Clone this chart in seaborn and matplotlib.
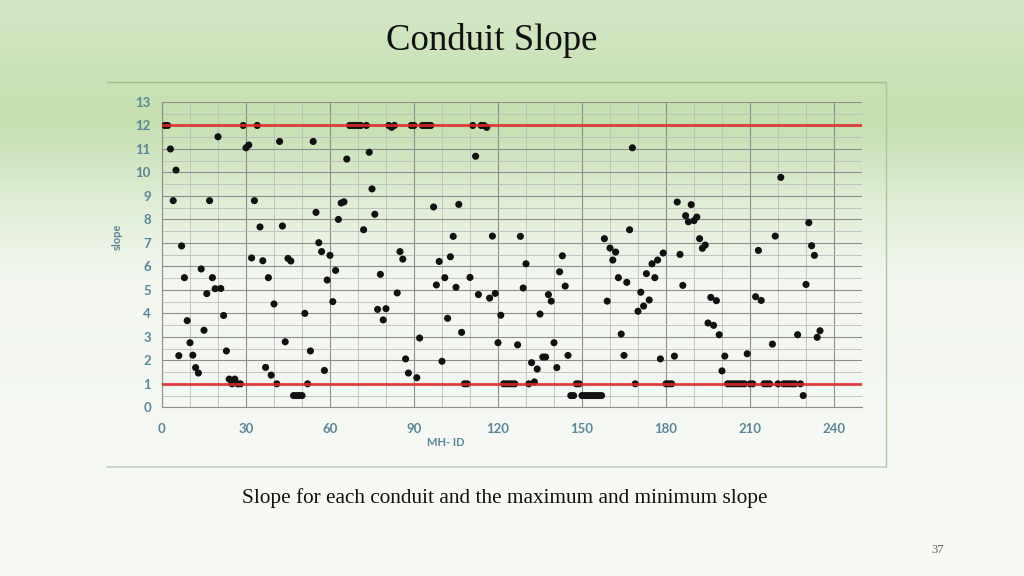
import numpy as np
import matplotlib
matplotlib.use("Agg")
import matplotlib.pyplot as plt
import seaborn as sns
from matplotlib.colors import to_rgb
from matplotlib.lines import Line2D

# slope of each conduit (MH-ID 1..235)
slope = [
    12.0, 12.0, 11.0, 8.8, 10.1, 2.2, 6.87, 5.52, 3.69, 2.75,
    2.22, 1.69, 1.46, 5.89, 3.28, 4.84, 8.8, 5.52, 5.05, 11.52,
    5.06, 3.91, 2.4, 1.2, 1.0, 1.2, 1.0, 1.0, 12.0, 11.05,
    11.17, 6.36, 8.8, 12.0, 7.68, 6.24, 1.7, 5.52, 1.37, 4.4,
    1.0, 11.32, 7.72, 2.79, 6.34, 6.23, 0.5, 0.5, 0.5, 0.5,
    4.0, 1.0, 2.4, 11.32, 8.3, 7.01, 6.63, 1.57, 5.42, 6.47,
    4.5, 5.83, 8.0, 8.7, 8.75, 10.57, 12.0, 12.0, 12.0, 12.0,
    12.0, 7.56, 12.0, 10.86, 9.3, 8.22, 4.17, 5.66, 3.72, 4.2,
    12.0, 11.92, 12.0, 4.87, 6.63, 6.31, 2.06, 1.46, 12.0, 12.0,
    1.26, 2.95, 12.0, 12.0, 12.0, 12.0, 8.53, 5.21, 6.21, 1.96,
    5.52, 3.79, 6.41, 7.28, 5.11, 8.64, 3.19, 1.0, 1.0, 5.53,
    12.0, 10.69, 4.8, 12.0, 12.0, 11.92, 4.65, 7.29, 4.85, 2.75,
    3.92, 1.0, 1.0, 1.0, 1.0, 1.0, 2.66, 7.28, 5.08, 6.11,
    1.0, 1.9, 1.08, 1.63, 3.97, 2.14, 2.14, 4.8, 4.52, 2.75,
    1.69, 5.77, 6.45, 5.16, 2.21, 0.5, 0.5, 1.0, 1.0, 0.5,
    0.5, 0.5, 0.5, 0.5, 0.5, 0.5, 0.5, 7.18, 4.52, 6.78,
    6.27, 6.61, 5.52, 3.12, 2.21, 5.32, 7.56, 11.05, 1.0, 4.09,
    4.9, 4.31, 5.69, 4.57, 6.11, 5.52, 6.27, 2.06, 6.57, 1.0,
    1.0, 1.0, 2.18, 8.74, 6.51, 5.19, 8.16, 7.9, 8.63, 7.95,
    8.1, 7.18, 6.77, 6.91, 3.59, 4.68, 3.49, 4.54, 3.09, 1.55,
    2.18, 1.0, 1.0, 1.0, 1.0, 1.0, 1.0, 1.0, 2.28, 1.0,
    1.0, 4.71, 6.68, 4.55, 1.0, 1.0, 1.0, 2.69, 7.29, 1.0,
    9.79, 1.0, 1.0, 1.0, 1.0, 1.0, 3.09, 1.0, 0.5, 5.23,
    7.86, 6.88, 6.47, 2.98, 3.26,
]
mh_id = list(range(1, len(slope) + 1))

max_slope = 12
min_slope = 1

x_ticks = [0, 30, 60, 90, 120, 150, 180, 210, 240]
y_ticks = list(range(0, 14))

sns.set_style("white")
plt.rcParams['font.family'] = ['Lato', 'DejaVu Sans']

fig = plt.figure(figsize=(10.24, 5.76), dpi=100)

# slide background: green band at the top fading to off-white
stops = [(0, '#d4e8c5'), (120, '#c4dfb0'), (200, '#dfedd5'), (280, '#f3f7f0'), (576, '#f8faf6')]
rows = np.arange(576)
grad = np.zeros((576, 1, 3))
for c in range(3):
    grad[:, 0, c] = np.interp(rows, [s[0] for s in stops], [to_rgb(s[1])[c] for s in stops])
bg = fig.add_axes([0, 0, 1, 1], zorder=-10)
bg.imshow(grad, aspect='auto', extent=[0, 1, 0, 1])
bg.axis('off')

# chart frame (top, right, bottom edges)
x0, x1 = 107 / 1024, 886 / 1024
y0, y1 = 1 - 467 / 576, 1 - 82 / 576
fig.lines.append(Line2D([x0, x1], [y1, y1], transform=fig.transFigure, color='#9cc28a', lw=1.0))
fig.lines.append(Line2D([x1, x1], [y0, y1], transform=fig.transFigure, color='#a9c99b', lw=1.0))
fig.lines.append(Line2D([x0, x1], [y0, y0], transform=fig.transFigure, color='#c2d3bb', lw=1.2))

ax = fig.add_axes([162 / 1024, 1 - 407.3 / 576, 700 / 1024, 305.3 / 576])
ax.set_facecolor('none')

sns.scatterplot(x=mh_id, y=slope, ax=ax, color='#111111', s=26, edgecolor='none', zorder=3)

ax.axhline(max_slope, color='#e52a2a', lw=2.2, alpha=0.8, zorder=4)
ax.axhline(min_slope, color='#e52a2a', lw=2.2, alpha=0.8, zorder=4)

ax.set_xlim(0, 250)
ax.set_ylim(0, 13)
ax.set_xticks(x_ticks)
ax.set_xticks(range(0, 251, 10), minor=True)
ax.set_yticks(y_ticks)
ax.set_yticks(np.arange(0, 13.01, 0.5), minor=True)

ax.grid(which='major', color='#8e8e8e', lw=0.8)
ax.grid(which='minor', color='#bdbdbd', lw=0.6)
ax.set_axisbelow(True)

for side in ['top', 'right']:
    ax.spines[side].set_visible(False)
for side in ['left', 'bottom']:
    ax.spines[side].set_color('#8e8e8e')
    ax.spines[side].set_linewidth(0.8)

ax.tick_params(axis='both', which='both', direction='out', color='#8e8e8e', width=0.8)
ax.tick_params(axis='x', which='major', length=5, pad=6)
ax.tick_params(axis='x', which='minor', length=5)
ax.tick_params(axis='y', which='major', length=4, pad=4)
ax.tick_params(axis='y', which='minor', length=0)
ax.tick_params(axis='both', which='major', labelsize=9.5, labelcolor='#5a8799')
for lab in ax.get_xticklabels() + ax.get_yticklabels():
    lab.set_fontweight('bold')

ax.set_xlabel('')
ax.set_ylabel('')
fig.text(446 / 1024, 1 - 442 / 576, 'MH- ID', ha='center', va='center',
         fontsize=8, fontweight='bold', color='#5a8799')
fig.text(117 / 1024, 1 - 237 / 576, 'slope', ha='center', va='center', rotation=90,
         fontsize=8, fontweight='bold', color='#5a8799')

fig.text(492 / 1024, 1 - 40 / 576, 'Conduit Slope', ha='center', va='center',
         fontsize=26.5, family='Liberation Serif', color='#111111')
fig.text(505 / 1024, 1 - 498 / 576, 'Slope for each conduit and the maximum and minimum slope',
         ha='center', va='center', fontsize=15.3, family='Liberation Serif', color='#111111')
fig.text(938 / 1024, 1 - 550 / 576, '37', ha='center', va='center',
         fontsize=9, family='Liberation Serif', color='#666666')

fig.savefig('out.png', dpi=100)
